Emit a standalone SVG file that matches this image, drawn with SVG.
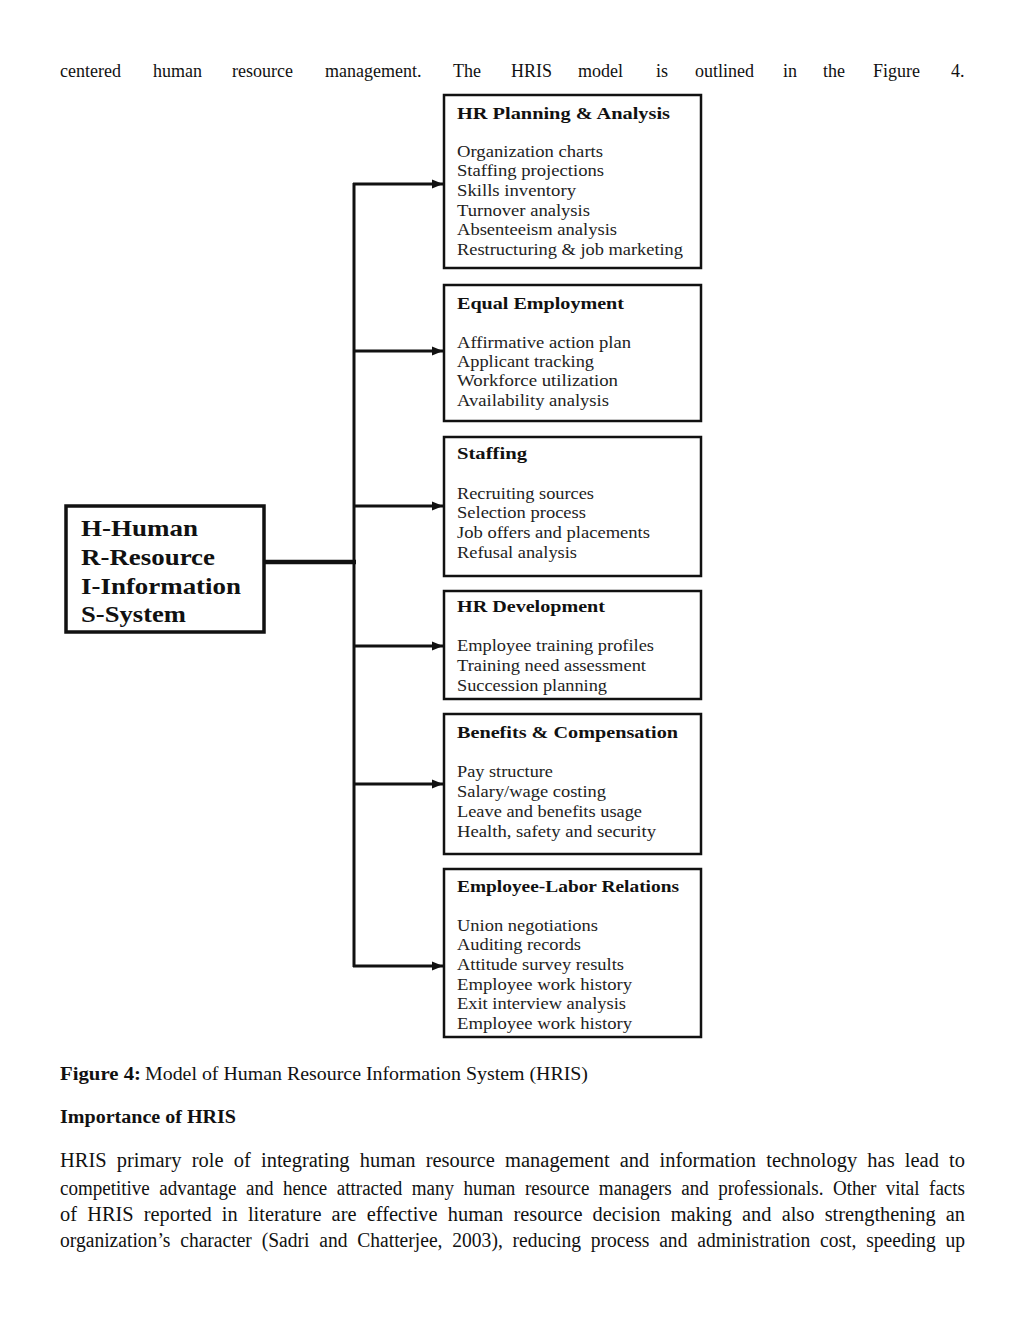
<svg xmlns="http://www.w3.org/2000/svg" width="1024" height="1326" viewBox="0 0 1024 1326">
<style>
.body{font-family:"Liberation Serif","Times New Roman",serif;font-size:18px;fill:#111}
.para{font-family:"Liberation Serif","Times New Roman",serif;font-size:20px;fill:#111;word-spacing:5px}
.bb{font-weight:bold}
.box{fill:#fff;stroke:#111;stroke-width:2.5}
.ttl{font-family:"Liberation Serif",serif;font-size:17px;font-weight:bold;fill:#111}
.itm{font-family:"Liberation Serif",serif;font-size:16px;fill:#222}
.big{font-family:"Liberation Serif",serif;font-size:23px;font-weight:bold;fill:#111}
.ln{stroke:#111;stroke-width:3;fill:none}
</style>
<defs>
<marker id="ah" markerUnits="userSpaceOnUse" markerWidth="12" markerHeight="10" refX="11" refY="5" orient="auto">
<path d="M0,0.5 L11,5 L0,9.5 Z" fill="#111"/>
</marker>
</defs>
<rect width="1024" height="1326" fill="#fff"/>

<g id="intro" class="body">
<text x="60" y="77">centered</text>
<text x="153" y="77">human</text>
<text x="232" y="77">resource</text>
<text x="325" y="77">management.</text>
<text x="453" y="77">The</text>
<text x="511" y="77">HRIS</text>
<text x="578" y="77">model</text>
<text x="656" y="77">is</text>
<text x="695" y="77">outlined</text>
<text x="783" y="77">in</text>
<text x="823" y="77">the</text>
<text x="873" y="77">Figure</text>
<text x="951" y="77">4.</text>
</g>

<g id="connectors">
<line class="ln" x1="264" y1="562" x2="356" y2="562" style="stroke-width:4.5"/>
<line class="ln" x1="354" y1="183" x2="354" y2="967"/>
<line class="ln" x1="353" y1="184" x2="443" y2="184" marker-end="url(#ah)"/>
<line class="ln" x1="353" y1="351" x2="443" y2="351" marker-end="url(#ah)"/>
<line class="ln" x1="353" y1="506" x2="443" y2="506" marker-end="url(#ah)"/>
<line class="ln" x1="353" y1="646" x2="443" y2="646" marker-end="url(#ah)"/>
<line class="ln" x1="353" y1="784" x2="443" y2="784" marker-end="url(#ah)"/>
<line class="ln" x1="353" y1="966" x2="443" y2="966" marker-end="url(#ah)"/>
</g>

<g id="hris">
<rect x="66" y="506" width="198" height="126" fill="#fff" stroke="#111" stroke-width="3.5"/>
<text class="big" x="81" y="536" textLength="117" lengthAdjust="spacingAndGlyphs">H-Human</text>
<text class="big" x="81" y="565" textLength="134" lengthAdjust="spacingAndGlyphs">R-Resource</text>
<text class="big" x="81" y="594" textLength="160" lengthAdjust="spacingAndGlyphs">I-Information</text>
<text class="big" x="81" y="622" textLength="105" lengthAdjust="spacingAndGlyphs">S-System</text>
</g>

<g id="planning">
<rect class="box" x="444" y="95" width="257" height="173"/>
<text class="ttl" x="457" y="119" textLength="213" lengthAdjust="spacingAndGlyphs">HR Planning &amp; Analysis</text>
<text class="itm" x="457" y="157" textLength="146" lengthAdjust="spacingAndGlyphs">Organization charts</text>
<text class="itm" x="457" y="176" textLength="147" lengthAdjust="spacingAndGlyphs">Staffing projections</text>
<text class="itm" x="457" y="196" textLength="119" lengthAdjust="spacingAndGlyphs">Skills inventory</text>
<text class="itm" x="457" y="216" textLength="133" lengthAdjust="spacingAndGlyphs">Turnover analysis</text>
<text class="itm" x="457" y="235" textLength="160" lengthAdjust="spacingAndGlyphs">Absenteeism analysis</text>
<text class="itm" x="457" y="255" textLength="226" lengthAdjust="spacingAndGlyphs">Restructuring &amp; job marketing</text>
</g>

<g id="equal">
<rect class="box" x="444" y="285" width="257" height="136"/>
<text class="ttl" x="457" y="309" textLength="167" lengthAdjust="spacingAndGlyphs">Equal Employment</text>
<text class="itm" x="457" y="348" textLength="174" lengthAdjust="spacingAndGlyphs">Affirmative action plan</text>
<text class="itm" x="457" y="367" textLength="137" lengthAdjust="spacingAndGlyphs">Applicant tracking</text>
<text class="itm" x="457" y="386" textLength="161" lengthAdjust="spacingAndGlyphs">Workforce utilization</text>
<text class="itm" x="457" y="406" textLength="152" lengthAdjust="spacingAndGlyphs">Availability analysis</text>
</g>

<g id="staffing">
<rect class="box" x="444" y="437" width="257" height="139"/>
<text class="ttl" x="457" y="459" textLength="70" lengthAdjust="spacingAndGlyphs">Staffing</text>
<text class="itm" x="457" y="499" textLength="137" lengthAdjust="spacingAndGlyphs">Recruiting sources</text>
<text class="itm" x="457" y="518" textLength="129" lengthAdjust="spacingAndGlyphs">Selection process</text>
<text class="itm" x="457" y="538" textLength="193" lengthAdjust="spacingAndGlyphs">Job offers and placements</text>
<text class="itm" x="457" y="558" textLength="120" lengthAdjust="spacingAndGlyphs">Refusal analysis</text>
</g>

<g id="development">
<rect class="box" x="444" y="591" width="257" height="108"/>
<text class="ttl" x="457" y="612" textLength="148" lengthAdjust="spacingAndGlyphs">HR Development</text>
<text class="itm" x="457" y="651" textLength="197" lengthAdjust="spacingAndGlyphs">Employee training profiles</text>
<text class="itm" x="457" y="671" textLength="189" lengthAdjust="spacingAndGlyphs">Training need assessment</text>
<text class="itm" x="457" y="691" textLength="150" lengthAdjust="spacingAndGlyphs">Succession planning</text>
</g>

<g id="benefits">
<rect class="box" x="444" y="714" width="257" height="140"/>
<text class="ttl" x="457" y="738" textLength="221" lengthAdjust="spacingAndGlyphs">Benefits &amp; Compensation</text>
<text class="itm" x="457" y="777" textLength="96" lengthAdjust="spacingAndGlyphs">Pay structure</text>
<text class="itm" x="457" y="797" textLength="149" lengthAdjust="spacingAndGlyphs">Salary/wage costing</text>
<text class="itm" x="457" y="817" textLength="185" lengthAdjust="spacingAndGlyphs">Leave and benefits usage</text>
<text class="itm" x="457" y="837" textLength="199" lengthAdjust="spacingAndGlyphs">Health, safety and security</text>
</g>

<g id="labor">
<rect class="box" x="444" y="869" width="257" height="168"/>
<text class="ttl" x="457" y="892" textLength="222" lengthAdjust="spacingAndGlyphs">Employee-Labor Relations</text>
<text class="itm" x="457" y="931" textLength="141" lengthAdjust="spacingAndGlyphs">Union negotiations</text>
<text class="itm" x="457" y="950" textLength="124" lengthAdjust="spacingAndGlyphs">Auditing records</text>
<text class="itm" x="457" y="970" textLength="167" lengthAdjust="spacingAndGlyphs">Attitude survey results</text>
<text class="itm" x="457" y="990" textLength="175" lengthAdjust="spacingAndGlyphs">Employee work history</text>
<text class="itm" x="457" y="1009" textLength="169" lengthAdjust="spacingAndGlyphs">Exit interview analysis</text>
<text class="itm" x="457" y="1029" textLength="175" lengthAdjust="spacingAndGlyphs">Employee work history</text>
</g>

<g id="caption" class="body">
<text x="60" y="1080"><tspan class="bb" textLength="81" lengthAdjust="spacingAndGlyphs">Figure 4:</tspan></text>
<text x="145" y="1080" textLength="443" lengthAdjust="spacingAndGlyphs">Model of Human Resource Information System (HRIS)</text>
<text x="60" y="1123" class="bb" textLength="176" lengthAdjust="spacingAndGlyphs">Importance of HRIS</text>
</g>
<g id="paragraph" class="para">
<text x="60" y="1167" textLength="905" lengthAdjust="spacingAndGlyphs">HRIS primary role of integrating human resource management and information technology has lead to</text>
<text x="60" y="1195" textLength="905" lengthAdjust="spacingAndGlyphs">competitive advantage and hence attracted many human resource managers and professionals. Other vital facts</text>
<text x="60" y="1221" textLength="905" lengthAdjust="spacingAndGlyphs">of HRIS reported in literature are effective human resource decision making and also strengthening an</text>
<text x="60" y="1247" textLength="905" lengthAdjust="spacingAndGlyphs">organization’s character (Sadri and Chatterjee, 2003), reducing process and administration cost, speeding up</text>
</g>
</svg>
